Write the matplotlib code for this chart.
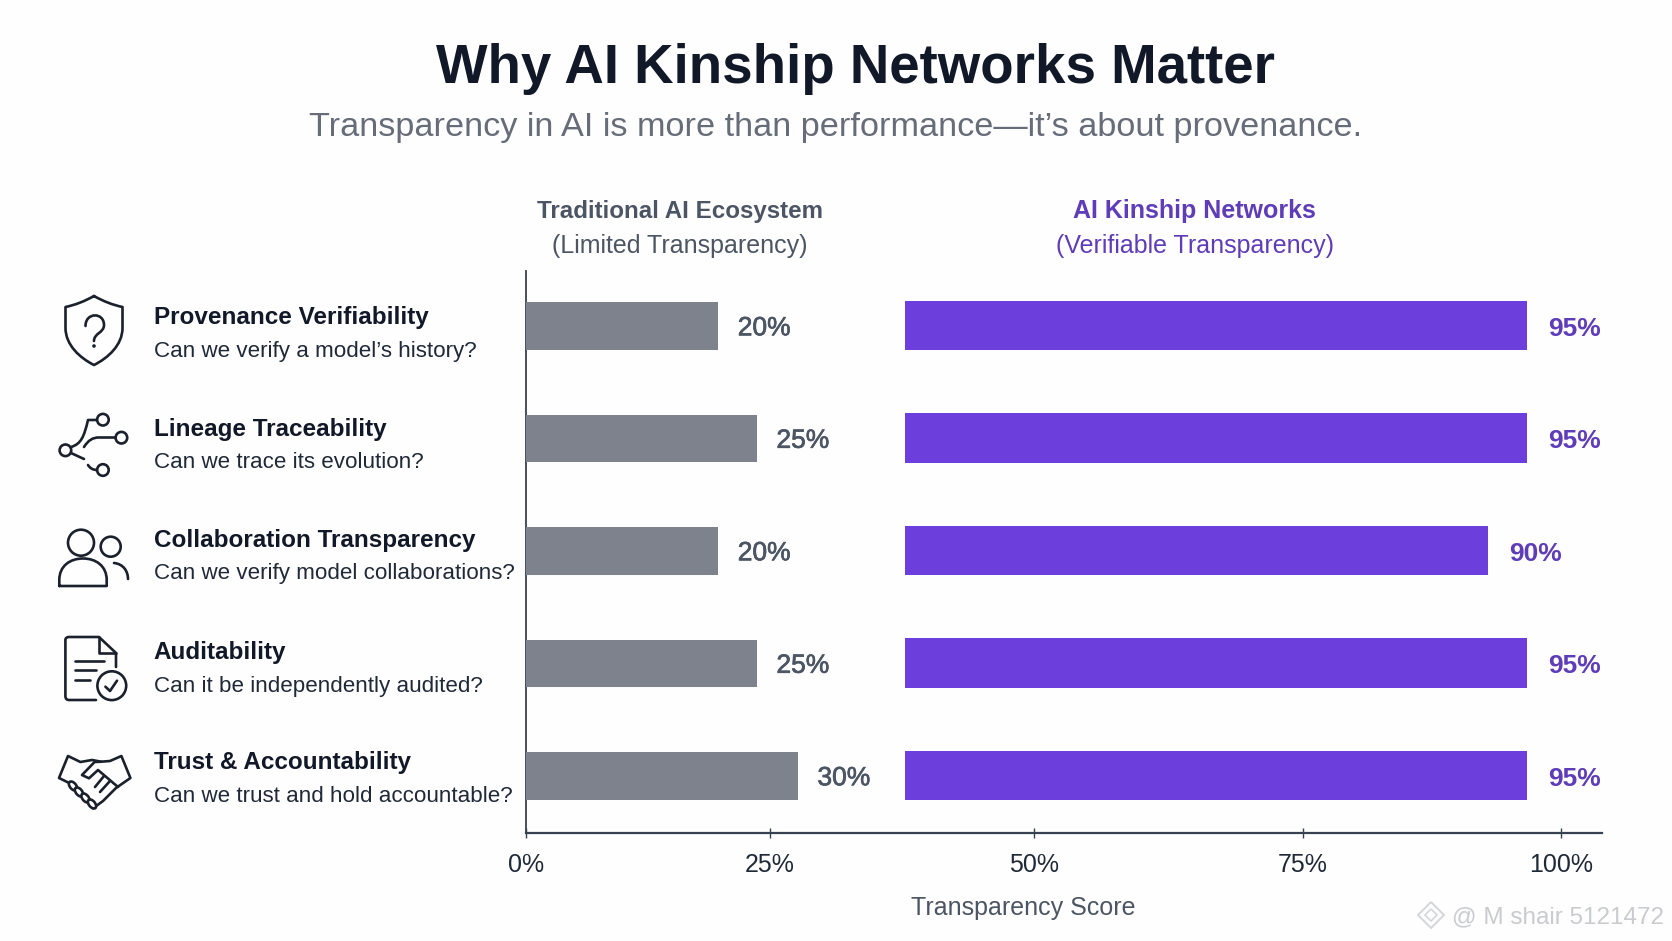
import numpy as np
import matplotlib
matplotlib.use("Agg")
import matplotlib.pyplot as plt
import matplotlib.patheffects as pe
from matplotlib.path import Path
from matplotlib.patches import PathPatch, Circle, Ellipse

plt.rcParams['font.family'] = ['Liberation Sans', 'DejaVu Sans']

# ---- data ----
metrics = ["Provenance Verifiability", "Lineage Traceability", "Collaboration Transparency",
           "Auditability", "Trust & Accountability"]
questions = ["Can we verify a model\u2019s history?", "Can we trace its evolution?",
             "Can we verify model collaborations?", "Can it be independently audited?",
             "Can we trust and hold accountable?"]
traditional = [20, 25, 20, 25, 30]
kinship = [95, 95, 90, 95, 95]
tick_values = [0, 25, 50, 75, 100]
tick_labels = ["0%", "25%", "50%", "75%", "100%"]

W, H = 1672, 941
INK = "#111827"
DARK = "#1f2937"
AXIS = "#374151"
GREY_TXT = "#4b5563"
SUB = "#666c78"
BAR_GREY = "#7d828c"
BAR_PURPLE = "#6c3fdd"
PURPLE_TXT = "#5f3cb8"

fig = plt.figure(figsize=(W / 100, H / 100), dpi=100, facecolor="#fefefe")


def make_axes(x0, x1, y0, y1):
    # rectangle given in picture pixels
    ax = fig.add_axes([x0 / W, 1 - y1 / H, (x1 - x0) / W, (y1 - y0) / H])
    ax.patch.set_alpha(0)
    return ax


def warp_x(ax, vals, px):
    # the picture's x scale is not even, so follow it anchor by anchor
    ax.set_xscale("function", functions=(lambda v: np.interp(v, vals, px),
                                         lambda p: np.interp(p, px, vals)))
    ax.set_xlim(vals[0], vals[-1])


def setup_y(ax):
    ax.set_ylim(4.507, -0.489)
    ax.set_yticks([])


Y_TOP, Y_BOT = 271, 833

# bottom axis with the ticks
ax = make_axes(525.6, 1602, Y_TOP, Y_BOT)
warp_x(ax, tick_values + [110], [525.6, 770, 1033.6, 1303, 1561, 1602])
setup_y(ax)
ax.set_xticks(tick_values)
ax.set_xticklabels(tick_labels, fontsize=18, color=DARK)
ax.tick_params(axis="x", direction="inout", length=7.5, width=1.0, color=AXIS, pad=11)
ax.spines["top"].set_visible(False)
ax.spines["right"].set_visible(False)
ax.spines["left"].set_color(AXIS)
ax.spines["left"].set_linewidth(1.3)
ax.spines["bottom"].set_color(AXIS)
ax.spines["bottom"].set_linewidth(1.6)

# grey panel
ax_g = make_axes(525.6, 1602, Y_TOP, Y_BOT)
warp_x(ax_g, [0, 20, 25, 30, 140], [525.6, 718.3, 757, 798, 1602])
setup_y(ax_g)
ax_g.axis("off")
ax_g.barh(np.arange(5), traditional, height=0.42, color=BAR_GREY)
for i, v in enumerate(traditional):
    t = ax_g.annotate(f"{v}%", (v, i), xytext=(14, -6.7), textcoords="offset points",
                      fontsize=19, color=GREY_TXT, va="baseline", ha="left")
    t.set_path_effects([pe.withStroke(linewidth=0.5, foreground=GREY_TXT)])

# purple panel
ax_p = make_axes(905.3, 1605, Y_TOP, Y_BOT)
warp_x(ax_p, [0, 90, 95, 105], [905.3, 1488.3, 1527.3, 1605])
setup_y(ax_p)
ax_p.axis("off")
ax_p.barh(np.arange(5) - 0.004, kinship, height=0.44, color=BAR_PURPLE)
for i, v in enumerate(kinship):
    ax_p.annotate(f"{v}%", (v, i), xytext=(15.2, -7.2), textcoords="offset points",
                  fontsize=19, color=PURPLE_TXT, va="baseline", ha="left", fontweight="bold")

# overlay in picture pixels for titles, row labels and icons
ov = fig.add_axes([0, 0, 1, 1])
ov.set_xlim(0, W)
ov.set_ylim(H, 0)
ov.axis("off")
ov.patch.set_alpha(0)

ov.text(856, 83, "Why AI Kinship Networks Matter", fontsize=39.3, fontweight="bold",
        color=INK, ha="center", va="baseline")
ov.text(836, 135.5, "Transparency in AI is more than performance\u2014it\u2019s about provenance.",
        fontsize=24.7, color=SUB, ha="center", va="baseline")
ov.text(680, 218, "Traditional AI Ecosystem", fontsize=17.4, fontweight="bold",
        color=GREY_TXT, ha="center", va="baseline")
ov.text(680, 252.5, "(Limited Transparency)", fontsize=18, color=GREY_TXT, ha="center", va="baseline")
ov.text(1194.5, 218, "AI Kinship Networks", fontsize=18, fontweight="bold",
        color=PURPLE_TXT, ha="center", va="baseline")
ov.text(1195, 252.5, "(Verifiable Transparency)", fontsize=18, color=PURPLE_TXT, ha="center", va="baseline")
ov.text(1023.5, 915, "Transparency Score", fontsize=18, color=GREY_TXT, ha="center", va="baseline")

title_base = [324, 435.7, 547.3, 659.3, 769.3]
sub_base = [356.7, 468, 579.3, 692, 802]
for name, q, yt, ys in zip(metrics, questions, title_base, sub_base):
    ov.text(153.5, yt, name, fontsize=17.45, fontweight="bold", color=INK, va="baseline")
    ov.text(153.5, ys, q, fontsize=16.1, color=DARK, va="baseline")

# watermark
ov.text(1452, 923, "@ M shair 5121472", fontsize=17.5, color="#c9cbcf", va="baseline")
ov.add_patch(PathPatch(Path([(1431, 902), (1444, 915), (1431, 928), (1418, 915), (1431, 902)]),
                       fill=False, ec="#d4d6d9", lw=1.4))
ov.add_patch(PathPatch(Path([(1431, 909), (1437, 915), (1431, 921), (1425, 915), (1431, 909)]),
                       fill=False, ec="#d4d6d9", lw=1.2))

# ---- icons ----
LW = 1.9
IC = "#1a202c"
M, L, C3, C4 = Path.MOVETO, Path.LINETO, Path.CURVE3, Path.CURVE4


def stroke(verts, codes=None, lw=LW):
    ov.add_patch(PathPatch(Path(verts, codes), fill=False, ec=IC, lw=lw,
                           capstyle="round", joinstyle="round"))


def ring(x, y, r, lw=LW):
    ov.add_patch(Circle((x, y), r, fill=False, ec=IC, lw=lw))


# shield
stroke([(94, 296), (80, 304), (65.5, 307), (65.5, 328), (65.5, 345), (80, 358), (94, 365),
        (108, 358), (122.5, 345), (122.5, 328), (122.5, 307), (108, 304), (94, 296)],
       [M, C3, C3, L, C4, C4, C4, C4, C4, C4, L, C3, C3])
stroke([(85.5, 326), (85.5, 312), (104, 312), (104, 325), (104, 333), (94, 333), (94, 341)],
       [M, C4, C4, C4, C4, C4, C4])
ov.add_patch(Circle((94, 346), 1.8, fc=IC, ec="none"))

# lineage tree
for cx, cy in [(102.9, 419.7), (121.4, 437.7), (65.4, 450.3), (102.9, 470)]:
    ring(cx, cy, 5.8)
stroke([(71, 447), (81, 444), (84, 437), (88, 420), (97, 420)], [M, C4, C4, C4, L])
stroke([(84, 447), (90, 437), (99, 437.5), (115.5, 437.5)], [M, C3, C3, L])
stroke([(71, 453), (84, 459)])
stroke([(88, 465), (91, 470), (97, 470)], [M, C3, C3])

# people
ring(81, 542.7, 13)
ring(110.7, 546.7, 10)
stroke([(59.3, 586), (59.3, 580), (59.3, 566), (70, 558.5), (83, 558.5), (96, 558.5), (106.7, 566),
        (106.7, 580), (106.7, 586), (59.3, 586)],
       [M, L, C4, C4, C4, C4, C4, C4, L, L])
stroke([(114, 563), (124, 564), (128, 572), (128, 579)], [M, C4, C4, C4])

# document with check
stroke([(116, 667), (116, 653), (99, 637), (69, 637), (65.4, 637), (65.4, 640), (65.4, 696),
        (65.4, 700), (69, 700), (96, 700)],
       [M, L, L, L, C3, C3, L, C3, C3, L])
stroke([(99, 637), (99, 653), (116, 653)])
for yy, xe in [(661, 103.6), (670, 96.4), (680, 90)]:
    stroke([(75, yy), (xe, yy)])
ring(111.8, 685.7, 14.4)
stroke([(105.4, 686.7), (110, 691), (117, 680.7)])

# handshake
stroke([(76.8, 786.7), (59, 778), (68, 756), (80.4, 762), (92, 760), (101, 761.7), (110, 761), (121.4, 756),
        (130.4, 778), (116, 788), (103, 801), (93, 808.3)])
stroke([(101, 761.7), (94.6, 762), (82, 775), (89, 778.3), (98, 770), (118, 787)])
stroke([(110, 781), (100, 792)])
stroke([(104, 776), (95, 787)])
for cx, cy in [(73, 786), (79, 792), (85.5, 798), (92, 804)]:
    ov.add_patch(Ellipse((cx, cy), 10.5, 6.2, angle=50, fc="white", ec=IC, lw=LW))

fig.savefig("out.png", dpi=100, facecolor=fig.get_facecolor())
